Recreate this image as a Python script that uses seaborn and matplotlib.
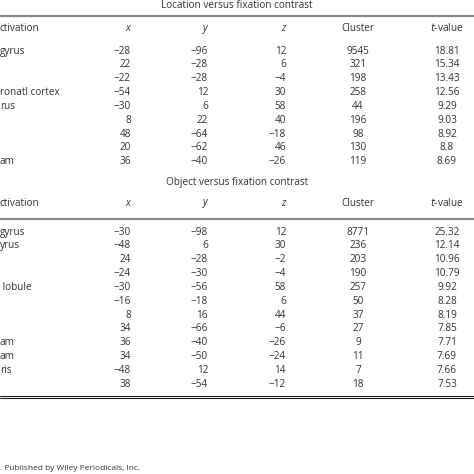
import matplotlib
matplotlib.use("Agg")
import matplotlib.pyplot as plt
import seaborn as sns

# table 1: location versus fixation
loc_labels = ["gyrus", "", "", "ronatl cortex", "rus", "", "", "", "am"]
loc_x = ["\u221228", "22", "\u221222", "\u221254", "\u221230", "8", "48", "20", "36"]
loc_y = ["\u221296", "\u221228", "\u221228", "12", "6", "22", "\u221264", "\u221262", "\u221240"]
loc_z = ["12", "6", "\u22124", "30", "58", "40", "\u221218", "46", "\u221226"]
loc_cluster = ["9545", "321", "198", "258", "44", "196", "98", "130", "119"]
loc_t = ["18.81", "15.34", "13.43", "12.56", "9.29", "9.03", "8.92", "8.8", "8.69"]

# table 2: object versus fixation
obj_labels = ["gyrus", "yrus", "", "", " lobule", "", "", "", "am", "am", "ris", ""]
obj_x = ["\u221230", "\u221248", "24", "\u221224", "\u221230", "\u221216", "8", "34", "36", "34", "\u221248", "38"]
obj_y = ["\u221298", "6", "\u221228", "\u221230", "\u221256", "\u221218", "16", "\u221266", "\u221240", "\u221250", "12", "\u221254"]
obj_z = ["12", "30", "\u22122", "\u22124", "58", "6", "44", "\u22126", "\u221226", "\u221224", "14", "\u221212"]
obj_cluster = ["8771", "236", "203", "190", "257", "50", "37", "27", "9", "11", "7", "18"]
obj_t = ["25.32", "12.14", "10.96", "10.79", "9.92", "8.28", "8.19", "7.85", "7.71", "7.69", "7.66", "7.53"]

sns.set_style("white")
plt.rcParams['font.family'] = ['Open Sans', 'DejaVu Sans']

fig = plt.figure(figsize=(4.74, 4.74), dpi=100)
ax = fig.add_axes([0, 0, 1, 1])
ax.set_xlim(0, 474)
ax.set_ylim(474, 0)
ax.axis("off")

fs = 7.2
col = "#333333"


def header(y0):
    ax.text(0, y0, "ctivation", fontsize=fs, color=col, va="center", ha="left")
    ax.text(128, y0, "x", fontsize=fs, color=col, va="center", ha="center", style="italic")
    ax.text(205, y0, "y", fontsize=fs, color=col, va="center", ha="center", style="italic")
    ax.text(283, y0, "z", fontsize=fs, color=col, va="center", ha="center", style="italic")
    ax.text(358, y0, "Cluster", fontsize=fs, color=col, va="center", ha="center")
    ax.text(447, y0, "$\\it{t}$-value", fontsize=fs, color=col, va="center", ha="center")


def rows(y0, labels, xs, ys, zs, cl, tv):
    for i in range(len(labels)):
        yy = y0 + i * 13.85
        ax.text(0, yy, labels[i], fontsize=fs, color=col, va="center", ha="left")
        ax.text(131, yy, xs[i], fontsize=fs, color=col, va="center", ha="right")
        ax.text(208, yy, ys[i], fontsize=fs, color=col, va="center", ha="right")
        ax.text(286, yy, zs[i], fontsize=fs, color=col, va="center", ha="right")
        ax.text(358, yy, cl[i], fontsize=fs, color=col, va="center", ha="center")
        ax.text(447, yy, tv[i], fontsize=fs, color=col, va="center", ha="center")


ax.text(237, 5, "Location versus fixation contrast", fontsize=fs, color=col, va="center", ha="center")
ax.plot([0, 474], [15.5, 15.5], color="#888888", lw=1.6)
header(28)
rows(51, loc_labels, loc_x, loc_y, loc_z, loc_cluster, loc_t)

ax.text(237, 183, "Object versus fixation contrast", fontsize=fs, color=col, va="center", ha="center")
header(203)
ax.plot([0, 474], [219, 219], color="#888888", lw=1.6)
rows(232, obj_labels, obj_x, obj_y, obj_z, obj_cluster, obj_t)
ax.plot([0, 474], [396, 396], color="#222222", lw=0.8)
ax.plot([0, 474], [398, 398], color="#222222", lw=0.8)

ax.text(0, 469, ". Published by Wiley Periodicals, Inc.", fontsize=6, color=col, va="center", ha="left")

fig.savefig("out.png", dpi=100)
